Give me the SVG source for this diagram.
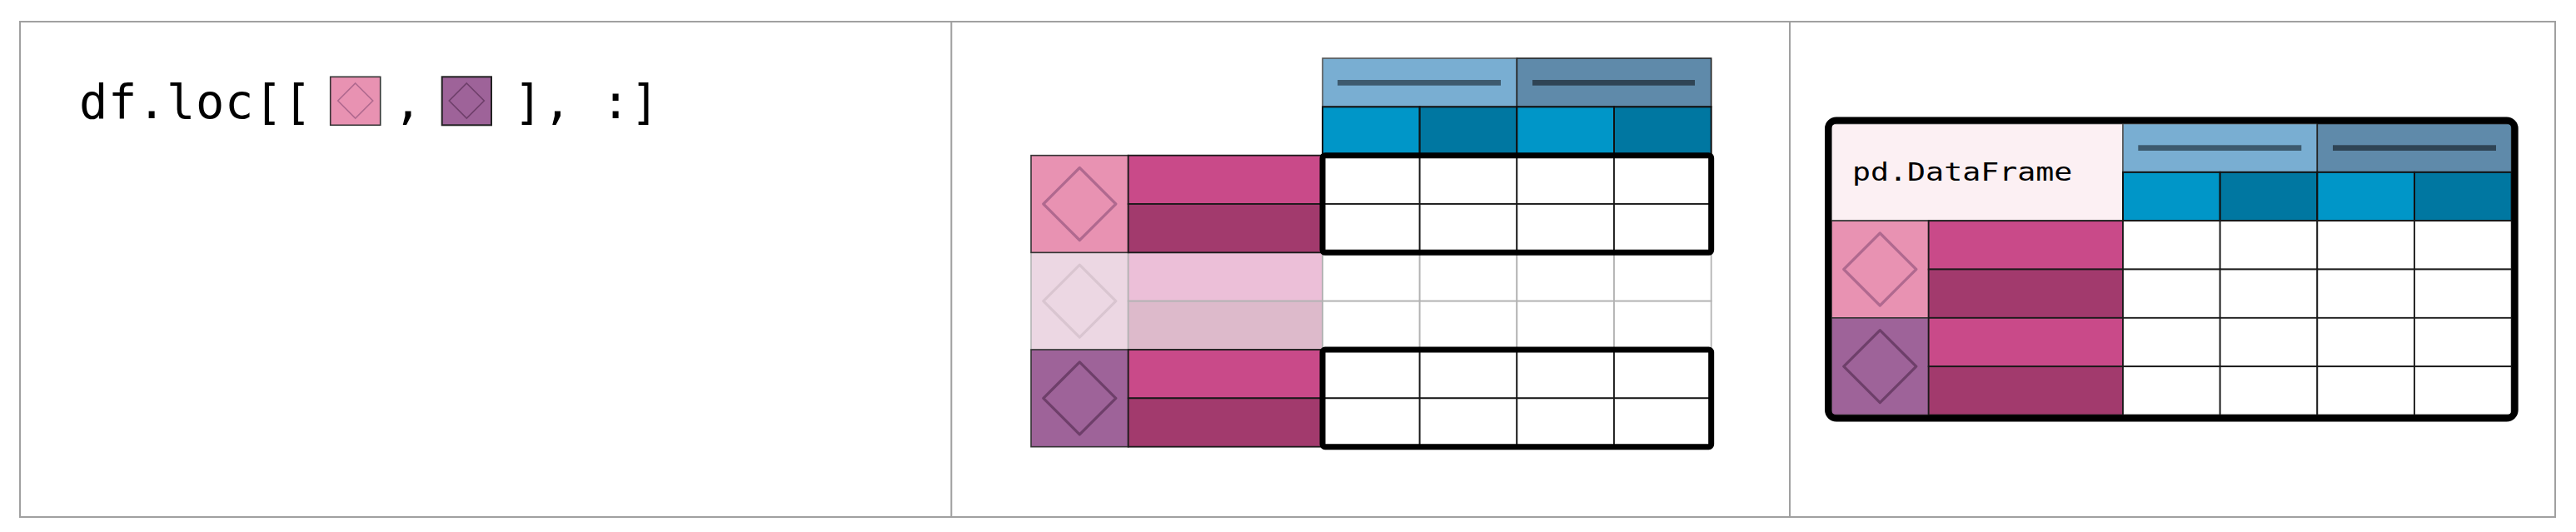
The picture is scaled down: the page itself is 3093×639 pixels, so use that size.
<svg xmlns="http://www.w3.org/2000/svg" width="3093" height="639" viewBox="0 0 3093 639">
<style>
.frame{fill:none;stroke:#a0a0a0;stroke-width:2}
.code{font-family:"DejaVu Sans Mono","Liberation Mono",monospace;fill:#000}
.h1a{fill:#79aed2;stroke:#555;stroke-width:1.6}
.h1b{fill:#5f8aaa;stroke:#222;stroke-width:1.6}
.bar1{fill:#3d5a6e}
.bar2{fill:#2f4455}
.h2a{fill:#0096c8;stroke:#111;stroke-width:2}
.h2b{fill:#0077a1;stroke:#111;stroke-width:2}
.cell{fill:#fff;stroke:#1a1a1a;stroke-width:1.8}
.fcell{fill:#fff;stroke:#b3b3b3;stroke-width:1.8}
.ipink{fill:#e892b2;stroke:#333;stroke-width:1.6}
.ipurp{fill:#9e6399;stroke:#333;stroke-width:1.6}
.ifade{fill:#ecd7e3;stroke:#b3b3b3;stroke-width:1.6}
.l1a{fill:#c94a89;stroke:#1a1a1a;stroke-width:1.8}
.l1b{fill:#a23a6d;stroke:#1a1a1a;stroke-width:1.8}
.l1fa{fill:#ecbfd8;stroke:#b3b3b3;stroke-width:1.8}
.l1fb{fill:#ddbacb;stroke:#b3b3b3;stroke-width:1.8}
.dpink{fill:none;stroke:#b0698f;stroke-width:3.2;stroke-linejoin:round}
.dpurp{fill:none;stroke:#6e3f6a;stroke-width:3.2;stroke-linejoin:round}
.dfade{fill:none;stroke:#d9c5d0;stroke-width:3.2;stroke-linejoin:round}
.sel{fill:none;stroke:#000;stroke-width:7;stroke-linejoin:round}
</style>
<defs>
<path id="dia" d="M0,-43.5 L43.5,0 L0,43.5 L-43.5,0 Z"/>
<path id="dias" d="M0,-21 L21,0 L0,21 L-21,0 Z"/>
</defs>

<g id="frame">
<rect class="frame" x="24" y="26" width="3044" height="595"/>
<line class="frame" x1="1142.3" y1="26" x2="1142.3" y2="621"/>
<line class="frame" x1="2149" y1="26" x2="2149" y2="621"/>
</g>

<g id="code">
<text class="code" x="95" y="141.7" font-size="57" letter-spacing="0.7">df.loc[[</text>
<rect x="396.7" y="92.3" width="60" height="58" fill="#e892b2" stroke="#333" stroke-width="1.6"/>
<use href="#dias" x="426.7" y="121" fill="none" stroke="#b0698f" stroke-width="1.6"/>
<text class="code" x="472.5" y="141.7" font-size="57">,</text>
<rect x="530.7" y="92.3" width="59.3" height="58" fill="#9e6399" stroke="#222" stroke-width="2"/>
<use href="#dias" x="560.3" y="121" fill="none" stroke="#6e3f6a" stroke-width="1.6"/>
<text class="code" x="617" y="141.7" font-size="57" letter-spacing="0.7">], :]</text>
</g>

<g id="selection">
<rect class="h1a" x="1588" y="70" width="233.33" height="58.33"/>
<rect class="h1b" x="1821.33" y="70" width="233.33" height="58.33"/>
<rect class="bar1" x="1606" y="96" width="196" height="6.7"/>
<rect class="bar2" x="1840" y="96" width="195" height="6.7"/>
<rect class="h2a" x="1588" y="128.33" width="116.67" height="58.33"/>
<rect class="h2b" x="1704.67" y="128.33" width="116.67" height="58.33"/>
<rect class="h2a" x="1821.33" y="128.33" width="116.67" height="58.33"/>
<rect class="h2b" x="1938" y="128.33" width="116.67" height="58.33"/>
<rect class="ifade" x="1238" y="303.33" width="116.67" height="116.67"/>
<use href="#dia" x="1296.3" y="361.67" class="dfade"/>
<rect class="l1fa" x="1354.67" y="303.33" width="233.33" height="58.33"/>
<rect class="l1fb" x="1354.67" y="361.67" width="233.33" height="58.33"/>
<rect class="fcell" x="1588" y="303.33" width="116.67" height="58.33"/>
<rect class="fcell" x="1704.67" y="303.33" width="116.67" height="58.33"/>
<rect class="fcell" x="1821.33" y="303.33" width="116.67" height="58.33"/>
<rect class="fcell" x="1938" y="303.33" width="116.67" height="58.33"/>
<rect class="fcell" x="1588" y="361.67" width="116.67" height="58.33"/>
<rect class="fcell" x="1704.67" y="361.67" width="116.67" height="58.33"/>
<rect class="fcell" x="1821.33" y="361.67" width="116.67" height="58.33"/>
<rect class="fcell" x="1938" y="361.67" width="116.67" height="58.33"/>
<rect class="ipink" x="1238" y="186.67" width="116.67" height="116.67"/>
<use href="#dia" x="1296.3" y="245" class="dpink"/>
<rect class="l1a" x="1354.67" y="186.67" width="233.33" height="58.33"/>
<rect class="l1b" x="1354.67" y="245" width="233.33" height="58.33"/>
<rect class="cell" x="1588" y="186.67" width="116.67" height="58.33"/>
<rect class="cell" x="1704.67" y="186.67" width="116.67" height="58.33"/>
<rect class="cell" x="1821.33" y="186.67" width="116.67" height="58.33"/>
<rect class="cell" x="1938" y="186.67" width="116.67" height="58.33"/>
<rect class="cell" x="1588" y="245" width="116.67" height="58.33"/>
<rect class="cell" x="1704.67" y="245" width="116.67" height="58.33"/>
<rect class="cell" x="1821.33" y="245" width="116.67" height="58.33"/>
<rect class="cell" x="1938" y="245" width="116.67" height="58.33"/>
<rect class="sel" x="1588" y="186.67" width="466.67" height="116.67" rx="3"/>
<rect class="ipurp" x="1238" y="420" width="116.67" height="116.67"/>
<use href="#dia" x="1296.3" y="478.33" class="dpurp"/>
<rect class="l1a" x="1354.67" y="420" width="233.33" height="58.33"/>
<rect class="l1b" x="1354.67" y="478.33" width="233.33" height="58.33"/>
<rect class="cell" x="1588" y="420" width="116.67" height="58.33"/>
<rect class="cell" x="1704.67" y="420" width="116.67" height="58.33"/>
<rect class="cell" x="1821.33" y="420" width="116.67" height="58.33"/>
<rect class="cell" x="1938" y="420" width="116.67" height="58.33"/>
<rect class="cell" x="1588" y="478.33" width="116.67" height="58.33"/>
<rect class="cell" x="1704.67" y="478.33" width="116.67" height="58.33"/>
<rect class="cell" x="1821.33" y="478.33" width="116.67" height="58.33"/>
<rect class="cell" x="1938" y="478.33" width="116.67" height="58.33"/>
<rect class="sel" x="1588" y="420" width="466.67" height="116.67" rx="3"/>
</g>

<g id="result">
<rect x="2199" y="148.5" width="350" height="116.67" fill="#fcf0f3" stroke="#555" stroke-width="1.6"/>
<text class="code" transform="translate(2224,216.7) scale(1.22,1)" x="0" y="0" font-size="30">pd.DataFrame</text>
<rect class="h1a" x="2549" y="148.5" width="233.33" height="58.33"/>
<rect class="h1b" x="2782.33" y="148.5" width="233.33" height="58.33"/>
<rect class="bar1" x="2567.3" y="174.3" width="196" height="6.7"/>
<rect class="bar2" x="2801" y="174.3" width="196" height="6.7"/>
<rect class="h2a" x="2549" y="206.83" width="116.67" height="58.33"/>
<rect class="h2b" x="2665.67" y="206.83" width="116.67" height="58.33"/>
<rect class="h2a" x="2782.33" y="206.83" width="116.67" height="58.33"/>
<rect class="h2b" x="2899" y="206.83" width="116.67" height="58.33"/>
<rect class="ipink" x="2199" y="265.17" width="116.67" height="116.67"/>
<use href="#dia" x="2257.3" y="323.5" class="dpink"/>
<rect class="l1a" x="2315.67" y="265.17" width="233.33" height="58.33"/>
<rect class="l1b" x="2315.67" y="323.5" width="233.33" height="58.33"/>
<rect class="ipurp" x="2199" y="381.83" width="116.67" height="116.67"/>
<use href="#dia" x="2257.3" y="440.17" class="dpurp"/>
<rect class="l1a" x="2315.67" y="381.83" width="233.33" height="58.33"/>
<rect class="l1b" x="2315.67" y="440.17" width="233.33" height="58.33"/>
<rect class="cell" x="2549" y="265.17" width="116.67" height="58.33"/>
<rect class="cell" x="2665.67" y="265.17" width="116.67" height="58.33"/>
<rect class="cell" x="2782.33" y="265.17" width="116.67" height="58.33"/>
<rect class="cell" x="2899" y="265.17" width="116.67" height="58.33"/>
<rect class="cell" x="2549" y="323.5" width="116.67" height="58.33"/>
<rect class="cell" x="2665.67" y="323.5" width="116.67" height="58.33"/>
<rect class="cell" x="2782.33" y="323.5" width="116.67" height="58.33"/>
<rect class="cell" x="2899" y="323.5" width="116.67" height="58.33"/>
<rect class="cell" x="2549" y="381.83" width="116.67" height="58.33"/>
<rect class="cell" x="2665.67" y="381.83" width="116.67" height="58.33"/>
<rect class="cell" x="2782.33" y="381.83" width="116.67" height="58.33"/>
<rect class="cell" x="2899" y="381.83" width="116.67" height="58.33"/>
<rect class="cell" x="2549" y="440.17" width="116.67" height="58.33"/>
<rect class="cell" x="2665.67" y="440.17" width="116.67" height="58.33"/>
<rect class="cell" x="2782.33" y="440.17" width="116.67" height="58.33"/>
<rect class="cell" x="2899" y="440.17" width="116.67" height="58.33"/>
<rect x="2195" y="144.5" width="824.67" height="358" rx="10" fill="none" stroke="#000" stroke-width="8"/>
</g>
</svg>
